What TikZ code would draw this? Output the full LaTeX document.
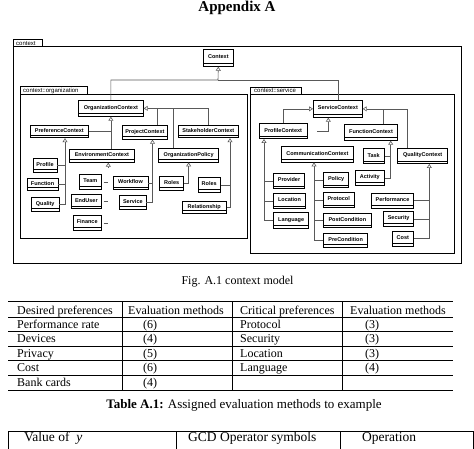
\documentclass[tikz,border=0pt]{standalone}
\usepackage{fontspec}
\setmainfont{Liberation Serif}
\setsansfont{Liberation Sans}
\usetikzlibrary{arrows.meta}

\begin{document}
\begin{tikzpicture}[x=1pt,y=-1pt,
    cls/.style={draw,line width=0.7pt,fill=white,anchor=north west,inner sep=1pt,
        font=\fontsize{5.5}{6}\sffamily\bfseries,text height=4pt,text depth=2pt,
        path picture={\draw[line width=0.5pt] ([yshift=2.6pt]path picture bounding box.south west) -- ([yshift=2.6pt]path picture bounding box.south east);}},
    pkg/.style={draw,line width=0.8pt},
    tab/.style={font=\fontsize{6}{7}\sffamily,anchor=base west,inner sep=0pt},
    gen/.style={draw=gray!70!black,line width=0.6pt,-{Triangle[open,fill=white,length=4pt,width=5pt]}},
    con/.style={draw=gray!70!black,line width=0.6pt},
    cell/.style={anchor=base west,font=\fontsize{12}{14}\selectfont,inner sep=0pt},
    rule/.style={line width=0.5pt}]
    \useasboundingbox[fill=white] (0,0) rectangle (474,449);

    \node[font=\fontsize{15}{18}\selectfont\bfseries,anchor=base] (title) at (237,11.8) {Appendix A};

    % packages
    \draw[pkg] (13,39.3) rectangle (42,46.7);
    \node[tab] (ctxtab) at (16,45.3) {context};
    \draw[pkg] (13,46.7) rectangle (461,263.3);
    \draw[pkg] (20,86.7) rectangle (87,94);
    \node[tab] (orgtab) at (23,92.6) {context::organization};
    \draw[pkg] (20,94) rectangle (247,238.3);
    \draw[pkg] (250.7,87.3) rectangle (301.7,94.3);
    \node[tab] (srvtab) at (254,93) {context::service};
    \draw[pkg] (250.7,94.3) rectangle (454.3,253.3);

    % classes
    \node[cls,minimum width=30,minimum height=17] (context) at (203,49) {Context};
    \node[cls,minimum width=65,minimum height=16] (orgctx) at (78,100) {OrganizationContext};
    \node[cls,minimum width=58,minimum height=12.5] (prefctx) at (30,125) {PreferenceContext};
    \node[cls,minimum width=45,minimum height=14] (projctx) at (122,125) {ProjectContext};
    \node[cls,minimum width=60,minimum height=12.5] (stakectx) at (178,125) {StakeholderContext};
    \node[cls,minimum width=65,minimum height=13] (envctx) at (69,149) {EnvironmentContext};
    \node[cls,minimum width=60,minimum height=13.4] (orgpol) at (158.3,148.3) {OrganizationPolicy};
    \node[cls,minimum width=24,minimum height=13.4] (profile) at (32.7,158.3) {Profile};
    \node[cls,minimum width=31,minimum height=12] (function) at (26.7,177.7) {Function};
    \node[cls,minimum width=27.7,minimum height=14.3] (quality) at (31,196.7) {Quality};
    \node[cls,minimum width=22,minimum height=15] (team) at (79,174) {Team};
    \node[cls,minimum width=35,minimum height=13.6] (workflow) at (112.7,175.7) {Workflow};
    \node[cls,minimum width=30,minimum height=14] (enduser) at (71,194.3) {EndUser};
    \node[cls,minimum width=26.4,minimum height=14] (service) at (119.3,195) {Service};
    \node[cls,minimum width=28.3,minimum height=15] (finance) at (72.7,215) {Finance};
    \node[cls,minimum width=24,minimum height=14] (roles1) at (159.3,176) {Roles};
    \node[cls,minimum width=22.3,minimum height=14.4] (roles2) at (197.7,177.3) {Roles};
    \node[cls,minimum width=44.3,minimum height=12] (relation) at (181.7,200.7) {Relationship};

    \node[cls,minimum width=49,minimum height=17] (srvctx) at (313,100) {ServiceContext};
    \node[cls,minimum width=47.7,minimum height=15] (profctx) at (259,123.3) {ProfileContext};
    \node[cls,minimum width=53.3,minimum height=15.7] (funcctx) at (344,124.3) {FunctionContext};
    \node[cls,minimum width=72.6,minimum height=15.7] (commctx) at (280.7,146) {CommunicationContext};
    \node[cls,minimum width=21.3,minimum height=15] (task) at (362.7,148.3) {Task};
    \node[cls,minimum width=50,minimum height=15.6] (qualctx) at (397.3,147.7) {QualityContext};
    \node[cls,minimum width=29,minimum height=15] (activity) at (355,170) {Activity};
    \node[cls,minimum width=30.7,minimum height=15.6] (provider) at (273.3,172.7) {Provider};
    \node[cls,minimum width=25,minimum height=15.6] (policy) at (323.3,171.7) {Policy};
    \node[cls,minimum width=31.3,minimum height=15.6] (protocol) at (322.7,191.7) {Protocol};
    \node[cls,minimum width=42.3,minimum height=15] (perf) at (371,192.7) {Performance};
    \node[cls,minimum width=31.7,minimum height=15.6] (location) at (273.3,192.7) {Location};
    \node[cls,minimum width=35,minimum height=15.4] (language) at (273.3,212.3) {Language};
    \node[cls,minimum width=47.4,minimum height=14.6] (postcond) at (323.3,212.7) {PostCondition};
    \node[cls,minimum width=30,minimum height=15] (security) at (383.3,211) {Security};
    \node[cls,minimum width=44,minimum height=14] (precond) at (323.3,232.7) {PreCondition};
    \node[cls,minimum width=21.6,minimum height=15] (cost) at (391.7,230.7) {Cost};

    % context tree
    \coordinate (ctxbar) at (218,80);
    \draw[gen] (orgctx.north) |- (ctxbar) -- (context.south);
    \draw[con] (srvctx.north) |- (ctxbar);

    % organization
    \draw[gen] (stakectx.north -| 208,0) |- (orgctx.east);
    \draw[con] (projctx.north -| 157,0) -- (orgctx.east -| 157,0);
    \draw[con] (orgpol.north -| 173,0) -- (orgctx.east -| 173,0);
    \draw[gen] (envctx.north -| orgctx.south) -- (orgctx.south);
    \draw[con] (prefctx.east) -- (prefctx.east -| orgctx.south);
    \draw[gen] (quality.east) -| (prefctx.south -| 65,0);
    \draw[con] (profile.east) -- (profile.east -| 65,0);
    \draw[con] (function.east) -- (function.east -| 65,0);
    \coordinate (envstub) at (108.3,167);
    \draw[gen] (envstub) -- (envctx.south -| envstub);
    \draw[con] ([xshift=2pt]team.east) -- (team.east -| envstub);
    \draw[con] ([xshift=2pt]enduser.east) -- (enduser.east -| envstub);
    \draw[con] ([xshift=2pt]finance.east) -- (finance.east -| envstub);
    \draw[gen] (service.east) -| (projctx.south -| 152.5,0);
    \draw[con] (workflow.east) -- (workflow.east -| 152.5,0);
    \draw[gen] (roles1.east) -| (orgpol.south);
    \draw[gen] (relation.east) -| (stakectx.south -| 230,0);
    \draw[con] (roles2.east) -- (roles2.east -| 230,0);

    % service
    \draw[gen] (profctx.north) |- (srvctx.west);
    \draw[gen] (qualctx.north -| 407,0) |- (srvctx.east);
    \draw[con] (funcctx.north -| 383.3,0) -- (srvctx.east -| 383.3,0);
    \coordinate (commstub) at (317.3,131);
    \draw[gen] (commstub) -| (srvctx.south -| 328.3,0);
    \draw[gen] (language.west) -| (profctx.south -| 264,0);
    \draw[con] (provider.west) -- (provider.west -| 264,0);
    \draw[con] (location.west) -- (location.west -| 264,0);
    \draw[gen] (precond.west) -| (commctx.south -| 314,0);
    \draw[con] (policy.west) -- (policy.west -| 314,0);
    \draw[con] (protocol.west) -- (protocol.west -| 314,0);
    \draw[con] (postcond.west) -- (postcond.west -| 314,0);
    \draw[gen] (activity.east) -| (funcctx.south -| 390.7,0);
    \draw[con] (task.east) -- (task.east -| 390.7,0);
    \draw[gen] (cost.east) -| (qualctx.south -| 429.3,0);
    \draw[con] (perf.east) -- (perf.east -| 429.3,0);
    \draw[con] (security.east) -- (security.east -| 429.3,0);

    \node[font=\fontsize{12}{14}\selectfont,anchor=base] (figcap) at (237.5,284) {Fig. A.1 context model};

    % table A.1
    \draw[line width=1.1pt] (8,301.7) -- (453,301.7);
    \foreach \y in {317.3,331.7,346,360.7,375}
        \draw[rule] (8,\y) -- (453,\y);
    \draw[line width=1.1pt] (8,390.7) -- (453,390.7);
    \foreach \x in {122,232,342}
        \draw[rule] (\x,301.7) -- (\x,390.7);
    \node[cell] (h1) at (17,314) {Desired preferences};
    \node[cell] (h2) at (128,314) {Evaluation methods};
    \node[cell] (h3) at (240,314) {Critical preferences};
    \node[cell] (h4) at (350,314) {Evaluation methods};
    \node[cell] (d1) at (17,328.4) {Performance rate};
    \node[cell] (e1) at (143,328.4) {(6)};
    \node[cell] (c1) at (240,328.4) {Protocol};
    \node[cell] (f1) at (365,328.4) {(3)};
    \node[cell] (d2) at (17,342.8) {Devices};
    \node[cell] (e2) at (143,342.8) {(4)};
    \node[cell] (c2) at (240,342.8) {Security};
    \node[cell] (f2) at (365,342.8) {(3)};
    \node[cell] (d3) at (17,357.2) {Privacy};
    \node[cell] (e3) at (143,357.2) {(5)};
    \node[cell] (c3) at (240,357.2) {Location};
    \node[cell] (f3) at (365,357.2) {(3)};
    \node[cell] (d4) at (17,371.6) {Cost};
    \node[cell] (e4) at (143,371.6) {(6)};
    \node[cell] (c4) at (240,371.6) {Language};
    \node[cell] (f4) at (365,371.6) {(4)};
    \node[cell] (d5) at (17,386) {Bank cards};
    \node[cell] (e5) at (143,386) {(4)};

    \node[font=\fontsize{13}{15}\selectfont,anchor=base] (tabcap) at (244,408.3) {\textbf{Table A.1:} Assigned evaluation methods to example};

    % next table
    \draw[rule] (8,431.7) -- (474,431.7);
    \foreach \x in {8,176,340,473}
        \draw[rule] (\x,431.7) -- (\x,449);
    \node[cell,font=\fontsize{13.5}{15}\selectfont] (v1) at (24,441.7) {Value of\enspace\textit{y}};
    \node[cell,font=\fontsize{13.5}{15}\selectfont] (v2) at (188,441.7) {GCD Operator symbols};
    \node[cell,font=\fontsize{13.5}{15}\selectfont] (v3) at (362,441.7) {Operation};
\end{tikzpicture}
\end{document}
